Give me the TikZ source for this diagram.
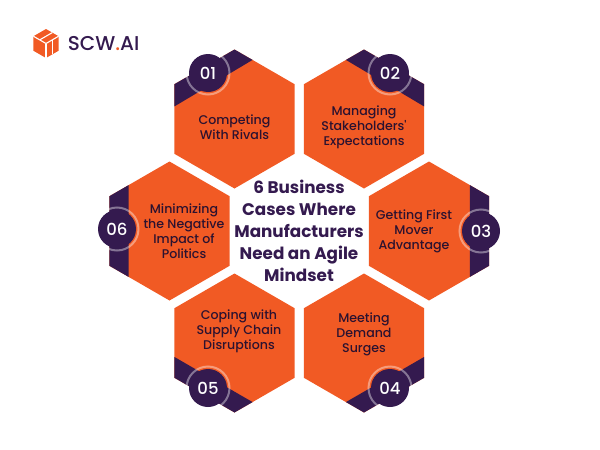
\documentclass[tikz,border=0pt]{standalone}
\usepackage{xcolor}
\usepackage{fontspec}
\setmainfont{Poppins}[BoldFont={Poppins Bold}]
\newfontfamily\mediumfont{Poppins Medium}
\usetikzlibrary{shapes.geometric, positioning, calc}
\definecolor{scworange}{HTML}{F15A24}
\definecolor{scwdark}{HTML}{341A4F}
\definecolor{scwtext}{HTML}{2B1230}
\tikzstyle{hexbox} = [regular polygon, regular polygon sides=6, regular polygon rotate=30, minimum size=139pt, inner sep=0pt, outer sep=0pt, fill=scworange]
\tikzstyle{band} = [fill=scwdark]
\tikzstyle{badge} = [circle, minimum size=38pt, inner sep=0pt, fill=scwdark, text=white, font=\mediumfont\fontsize{16.5}{18}\selectfont]
\tikzstyle{ring} = [circle, minimum size=43pt, draw=white, draw opacity=0.4, line width=2pt]
\tikzstyle{hexlabel} = [align=center, text=scwtext, font=\mediumfont\fontsize{12.6}{15}\selectfont]
\tikzstyle{cubeline} = [draw=white, line width=1.1pt]

\begin{document}
\begin{tikzpicture}[x=1pt, y=-1pt]
    \useasboundingbox (0,0) rectangle (600,450);

    % Hexagons
    \node[hexbox] (hex1) at (234.5,119) {};
    \node[hexbox] (hex2) at (364,119) {};
    \node[hexbox] (hex3) at (429,231) {};
    \node[hexbox] (hex4) at (364,343) {};
    \node[hexbox] (hex5) at (234.5,343) {};
    \node[hexbox] (hex6) at (169.5,231) {};

    % Dark bands
    \fill[band] (hex1.corner 2) -- (hex1.corner 1) -- ($(hex1.corner 1)!0.3!(hex1.corner 6)$) -- ($(hex1.corner 2)!0.32!(hex1.corner 3)$) -- cycle;
    \fill[band] (hex2.corner 6) -- (hex2.corner 1) -- ($(hex2.corner 1)!0.3!(hex2.corner 2)$) -- ($(hex2.corner 6)!0.32!(hex2.corner 5)$) -- cycle;
    \fill[band] (hex3.corner 6) -- (hex3.corner 5) -- ($(hex3.corner 4)!0.68!(hex3.corner 5)$) -- ($(hex3.corner 1)!0.68!(hex3.corner 6)$) -- cycle;
    \fill[band] (hex4.corner 5) -- (hex4.corner 4) -- ($(hex4.corner 4)!0.3!(hex4.corner 3)$) -- ($(hex4.corner 5)!0.3!(hex4.corner 6)$) -- cycle;
    \fill[band] (hex5.corner 3) -- (hex5.corner 4) -- ($(hex5.corner 4)!0.3!(hex5.corner 5)$) -- ($(hex5.corner 3)!0.3!(hex5.corner 2)$) -- cycle;
    \fill[band] (hex6.corner 2) -- (hex6.corner 3) -- ($(hex6.corner 4)!0.68!(hex6.corner 3)$) -- ($(hex6.corner 1)!0.68!(hex6.corner 2)$) -- cycle;

    % Number badges
    \node[badge] (num1) at (208,73) {01};
    \node[badge] (num2) at (390,73) {02};
    \node[badge] (num3) at (481,231) {03};
    \node[badge] (num4) at (390,388) {04};
    \node[badge] (num5) at (208,388) {05};
    \node[badge] (num6) at (117,229) {06};
    \foreach \n in {1,...,6}
        \node[ring] (ring\n) at (num\n) {};

    % Texts
    \node[hexlabel] (text1) at (234.5,127) {Competing\\With Rivals};
    \node[hexlabel] (text2) at (364,127) {Managing\\Stakeholders'\\Expectations};
    \node[hexlabel] (text3) at (414,231) {Getting First\\Mover\\Advantage};
    \node[hexlabel] (text4) at (364,334) {Meeting\\Demand\\Surges};
    \node[hexlabel] (text5) at (239,331) {Coping with\\Supply Chain\\Disruptions};
    \node[hexlabel] (text6) at (184,231) {Minimizing\\the Negative\\Impact of\\Politics};
    \node[align=center, text=scwdark, font=\fontsize{16.8}{22}\selectfont\bfseries] (title) at (299,231) {6 Business\\Cases Where\\Manufacturers\\Need an Agile\\Mindset};

    % Logo
    \node[regular polygon, regular polygon sides=6, regular polygon rotate=30, minimum size=29pt, inner sep=0pt, outer sep=0pt, fill=scworange] (logo) at (46,43.5) {};
    \draw[cubeline] (logo.center) -- (logo.corner 2);
    \draw[cubeline] (logo.center) -- (logo.corner 6);
    \draw[cubeline] (logo.center) -- (logo.corner 4);
    \draw[cubeline] ($(logo.center)!0.5!(logo.corner 6)$) -- ($(logo.corner 4)!0.5!(logo.corner 5)$);
    \draw[cubeline] ($(logo.center)!0.5!(logo.corner 2)$) -- ($(logo.corner 1)!0.5!(logo.corner 6)$);
    \node[right=9pt of logo, inner sep=0pt, text=scwdark, font=\mediumfont\fontsize{20}{22}\selectfont] (brand) {SCW\textcolor{scworange}{.}AI};
\end{tikzpicture}
\end{document}
